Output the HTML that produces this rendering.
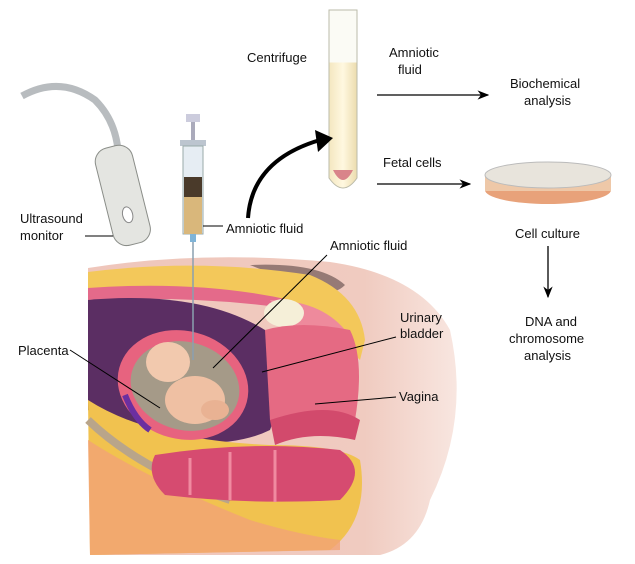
<!DOCTYPE html>
<html><head><style>
html,body{margin:0;padding:0;background:#fff;}
svg{display:block;}
text{font-family:"Liberation Sans",sans-serif;font-size:13px;fill:#111;}
</style></head><body>
<svg width="635" height="564" viewBox="0 0 635 564" xmlns="http://www.w3.org/2000/svg">
<defs>
<marker id="ah" viewBox="0 0 10 10" refX="9" refY="5" markerWidth="9" markerHeight="9" orient="auto"><path d="M0,1 L10,5 L0,9 L3,5z" fill="#000"/></marker>
<linearGradient id="tube" x1="0" x2="1"><stop offset="0" stop-color="#f4e7c0"/><stop offset=".5" stop-color="#fff8e0"/><stop offset="1" stop-color="#ecdcae"/></linearGradient>
<linearGradient id="bodyg" x1="0" x2="1"><stop offset="0" stop-color="#efc6bb"/><stop offset=".75" stop-color="#f0cbc0"/><stop offset="1" stop-color="#f8e6e0"/></linearGradient>
</defs>

<!-- body backdrop -->
<path d="M88,268 Q200,250 330,262 Q420,275 450,330 Q470,420 430,500 Q420,545 380,555 L90,555 Z" fill="url(#bodyg)"/>
<path d="M250,265 Q320,262 345,285 Q330,300 300,285 Z" fill="#5a4545" opacity=".6"/>
<!-- fat layers -->
<path d="M88,272 Q200,258 310,275 Q360,295 365,340 L360,360 Q300,300 200,288 Q140,284 88,290 Z" fill="#f3c85a"/>
<path d="M88,288 Q200,280 290,300 L300,310 Q200,295 88,300 Z" fill="#e46a8a"/>
<!-- uterus purple -->
<path d="M88,300 Q200,290 265,330 Q290,380 270,430 Q230,450 150,440 Q110,430 88,410 Z" fill="#5b2e63"/>
<!-- bladder area -->
<path d="M270,300 Q320,300 345,330 Q365,360 355,380 Q330,360 300,340 Z" fill="#ee8a9c"/>
<ellipse cx="284" cy="313" rx="20" ry="14" fill="#f5efd8"/>
<!-- pink muscle right -->
<path d="M265,330 Q300,320 350,330 Q365,360 355,420 Q300,430 270,420 Z" fill="#e56a83"/>
<path d="M270,420 Q330,400 360,420 L355,440 Q310,430 275,445 Z" fill="#d24a6c"/>
<!-- bottom fat & spine -->
<path d="M88,400 Q150,440 270,445 Q340,445 360,460 Q370,520 330,550 L90,555 Z" fill="#f1c24f"/>
<path d="M88,440 Q150,480 250,520 Q300,535 340,540 L340,550 L90,555 Z" fill="#f2a276" opacity=".8"/>
<path d="M88,420 Q140,470 230,500" stroke="#b9a58a" stroke-width="8" fill="none"/>
<!-- bowel -->
<path d="M155,455 Q250,440 340,450 Q370,470 340,500 Q250,505 165,495 Q145,475 155,455Z" fill="#d64b70"/>
<path d="M190,458 L190,495 M230,452 L230,500 M275,450 L275,502" stroke="#f08aa0" stroke-width="3"/>
<!-- amniotic sac -->
<ellipse cx="183" cy="385" rx="66" ry="54" transform="rotate(15 183 385)" fill="#e7637f"/>
<ellipse cx="185" cy="386" rx="55" ry="44" transform="rotate(15 185 386)" fill="#a59a88"/>
<!-- fetus -->
<ellipse cx="168" cy="362" rx="22" ry="20" fill="#f2c9ae"/>
<ellipse cx="195" cy="400" rx="30" ry="24" fill="#efc0a3"/>
<ellipse cx="215" cy="410" rx="14" ry="10" fill="#e9b293"/>
<path d="M125,395 Q135,420 150,430" stroke="#6b2fa0" stroke-width="6" fill="none"/>

<!-- needle -->
<line x1="193" y1="240" x2="193" y2="360" stroke="#8aa0b0" stroke-width="1.5"/>
<!-- syringe -->
<rect x="186" y="114" width="14" height="8" fill="#ccd"/>
<rect x="191" y="122" width="4" height="20" fill="#aab"/>
<rect x="180" y="140" width="26" height="6" fill="#bcc5cf"/>
<rect x="183" y="146" width="20" height="88" fill="#e6edf3" stroke="#9aa" stroke-width="1"/>
<rect x="184" y="177" width="18" height="20" fill="#4a3a2a"/>
<rect x="184" y="197" width="18" height="37" fill="#d9b77b"/>
<rect x="190" y="234" width="6" height="8" fill="#7fb4d8"/>

<!-- probe -->
<path d="M22,96 Q60,75 95,100 Q115,120 118,150" stroke="#b8bcbf" stroke-width="7" fill="none"/>
<g transform="rotate(-14 125 200)">
<rect x="105" y="145" width="38" height="100" rx="14" fill="#e4e5e1" stroke="#8a8d88"/>
<ellipse cx="124" cy="215" rx="5" ry="8" fill="#fff" stroke="#888"/>
</g>

<!-- test tube -->
<path d="M329,10 L357,10 L357,178 Q343,198 329,178 Z" fill="url(#tube)" stroke="#bba" stroke-width="1"/>
<rect x="329.5" y="10.5" width="27" height="52" fill="#fbfbf5"/>
<path d="M333,170 Q343,190 353,170" fill="#d9848a"/>
<!-- curved arrow -->
<path d="M248,218 Q252,160 320,140" stroke="#000" stroke-width="4" fill="none"/>
<path d="M315,130 L333,138 L318,152 Z" fill="#000"/>

<!-- petri dish -->
<ellipse cx="548" cy="190" rx="63" ry="14" fill="#e8a27a"/>
<rect x="485" y="175" width="126" height="16" fill="#eec8a8"/>
<ellipse cx="548" cy="175" rx="63" ry="13" fill="#e8e4dc" stroke="#bbb"/>

<!-- arrows -->
<line x1="377" y1="95" x2="488" y2="95" stroke="#000" stroke-width="1.3" marker-end="url(#ah)"/>
<line x1="377" y1="184" x2="470" y2="184" stroke="#000" stroke-width="1.3" marker-end="url(#ah)"/>
<line x1="548" y1="246" x2="548" y2="297" stroke="#000" stroke-width="1.3" marker-end="url(#ah)"/>

<!-- leader lines -->
<g stroke="#000" stroke-width="1" fill="none">
<line x1="85" y1="236" x2="113" y2="236"/>
<line x1="203" y1="226" x2="223" y2="226"/>
<line x1="327" y1="255" x2="213" y2="368"/>
<line x1="70" y1="350" x2="160" y2="408"/>
<line x1="396" y1="337" x2="262" y2="372"/>
<line x1="396" y1="397" x2="315" y2="404"/>
</g>

<!-- labels -->
<text x="247" y="62">Centrifuge</text>
<text x="389" y="57">Amniotic</text>
<text x="398" y="74">fluid</text>
<text x="510" y="88">Biochemical</text>
<text x="524" y="105">analysis</text>
<text x="383" y="167">Fetal cells</text>
<text x="515" y="238">Cell culture</text>
<text x="525" y="326">DNA and</text>
<text x="509" y="343">chromosome</text>
<text x="524" y="360">analysis</text>
<text x="20" y="223">Ultrasound</text>
<text x="20" y="240">monitor</text>
<text x="226" y="233">Amniotic fluid</text>
<text x="330" y="250">Amniotic fluid</text>
<text x="400" y="322">Urinary</text>
<text x="400" y="338">bladder</text>
<text x="18" y="355">Placenta</text>
<text x="399" y="401">Vagina</text>
</svg>
</body></html>
